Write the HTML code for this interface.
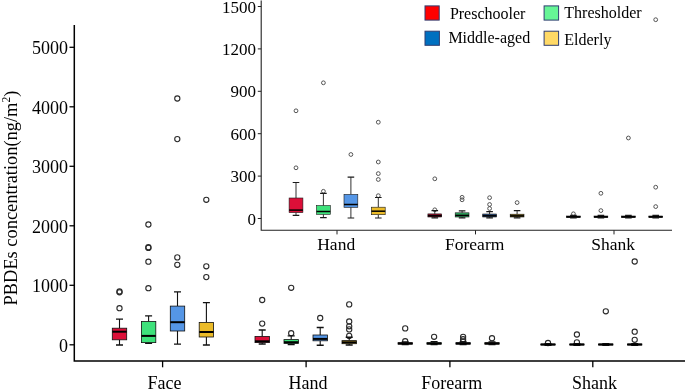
<!DOCTYPE html>
<html><head><meta charset="utf-8"><title>PBDEs concentration</title>
<style>
html,body{margin:0;padding:0;background:#fff;}
body{width:685px;height:390px;overflow:hidden;}
svg{display:block;font-family:"Liberation Serif","Times New Roman",serif;fill:#000;}
.m{font-size:18px;}
.i{font-size:17px;}
.l{font-size:16px;}
</style></head><body>
<svg width="685" height="390" viewBox="0 0 685 390">
<rect width="685" height="390" fill="#fff"/>

<g id="main">
<path d="M74.3 25V360.9H685" stroke="#000" stroke-width="1.5" fill="none"/>
<path d="M69.5 344.8H74.3" stroke="#000" stroke-width="1.3"/>
<text class="m" x="68.1" y="351.6" text-anchor="end">0</text>
<path d="M69.5 285.3H74.3" stroke="#000" stroke-width="1.3"/>
<text class="m" x="68.1" y="292.1" text-anchor="end">1000</text>
<path d="M69.5 225.8H74.3" stroke="#000" stroke-width="1.3"/>
<text class="m" x="68.1" y="232.6" text-anchor="end">2000</text>
<path d="M69.5 166.3H74.3" stroke="#000" stroke-width="1.3"/>
<text class="m" x="68.1" y="173.1" text-anchor="end">3000</text>
<path d="M69.5 106.8H74.3" stroke="#000" stroke-width="1.3"/>
<text class="m" x="68.1" y="113.6" text-anchor="end">4000</text>
<path d="M69.5 47.3H74.3" stroke="#000" stroke-width="1.3"/>
<text class="m" x="68.1" y="54.1" text-anchor="end">5000</text>
<path d="M162.6 360.9V367.3" stroke="#000" stroke-width="1.3"/>
<text class="m" x="164.4" y="389.3" text-anchor="middle">Face</text>
<path d="M306.1 360.9V367.3" stroke="#000" stroke-width="1.3"/>
<text class="m" x="307.9" y="389.3" text-anchor="middle">Hand</text>
<path d="M449.9 360.9V367.3" stroke="#000" stroke-width="1.3"/>
<text class="m" x="451.7" y="389.3" text-anchor="middle">Forearm</text>
<path d="M592.8 360.9V367.3" stroke="#000" stroke-width="1.3"/>
<text class="m" x="594.6" y="389.3" text-anchor="middle">Shank</text>
<text class="m" style="font-size:18.4px" transform="translate(16.8 305.4) rotate(-90)">PBDEs concentration(ng/m<tspan font-size="11.5" dy="-7">2</tspan><tspan dy="7">)</tspan></text>
<circle cx="119.5" cy="291.5" r="2.6" fill="#fff" fill-opacity="0" stroke="#2a2a2a" stroke-width="1.1"/><circle cx="119.5" cy="292.3" r="2.6" fill="#fff" fill-opacity="0" stroke="#2a2a2a" stroke-width="1.1"/><circle cx="119.5" cy="308.2" r="2.6" fill="#fff" fill-opacity="0" stroke="#2a2a2a" stroke-width="1.1"/>
<circle cx="148.4" cy="224.5" r="2.6" fill="#fff" fill-opacity="0" stroke="#2a2a2a" stroke-width="1.1"/><circle cx="148.4" cy="247.2" r="2.6" fill="#fff" fill-opacity="0" stroke="#2a2a2a" stroke-width="1.1"/><circle cx="148.4" cy="247.9" r="2.6" fill="#fff" fill-opacity="0" stroke="#2a2a2a" stroke-width="1.1"/><circle cx="148.4" cy="261.7" r="2.6" fill="#fff" fill-opacity="0" stroke="#2a2a2a" stroke-width="1.1"/><circle cx="148.4" cy="288.2" r="2.6" fill="#fff" fill-opacity="0" stroke="#2a2a2a" stroke-width="1.1"/>
<circle cx="177.3" cy="98.5" r="2.6" fill="#fff" fill-opacity="0" stroke="#2a2a2a" stroke-width="1.1"/><circle cx="177.3" cy="139.1" r="2.6" fill="#fff" fill-opacity="0" stroke="#2a2a2a" stroke-width="1.1"/><circle cx="177.3" cy="257.4" r="2.6" fill="#fff" fill-opacity="0" stroke="#2a2a2a" stroke-width="1.1"/><circle cx="177.3" cy="264.8" r="2.6" fill="#fff" fill-opacity="0" stroke="#2a2a2a" stroke-width="1.1"/>
<circle cx="206.3" cy="199.8" r="2.6" fill="#fff" fill-opacity="0" stroke="#2a2a2a" stroke-width="1.1"/><circle cx="206.3" cy="266.3" r="2.6" fill="#fff" fill-opacity="0" stroke="#2a2a2a" stroke-width="1.1"/><circle cx="206.3" cy="277.1" r="2.6" fill="#fff" fill-opacity="0" stroke="#2a2a2a" stroke-width="1.1"/>
<path d="M119.5 319.1V328.2M119.5 339.8V345.0" stroke="#111" stroke-width="1.1" fill="none"/><path d="M116.0 319.1H123.0M116.0 345.0H123.0" stroke="#111" stroke-width="1.4000000000000001" fill="none"/><rect x="112.3" y="328.2" width="14.4" height="11.6" fill="#DC0F38" stroke="#111" stroke-width="0.8"/><path d="M112.3 331.7H126.7" stroke="#000" stroke-width="2.0" fill="none"/>
<path d="M148.6 315.9V321.5M148.6 342.6V343.4" stroke="#111" stroke-width="1.1" fill="none"/><path d="M145.1 315.9H152.1M145.1 343.4H152.1" stroke="#111" stroke-width="1.4000000000000001" fill="none"/><rect x="141.4" y="321.5" width="14.4" height="21.1" fill="#3EE27B" stroke="#111" stroke-width="0.8"/><path d="M141.4 335.9H155.8" stroke="#000" stroke-width="2.0" fill="none"/>
<path d="M177.5 291.9V306.1M177.5 331.0V344.1" stroke="#111" stroke-width="1.1" fill="none"/><path d="M174.0 291.9H181.0M174.0 344.1H181.0" stroke="#111" stroke-width="1.4000000000000001" fill="none"/><rect x="170.3" y="306.1" width="14.4" height="24.9" fill="#5596E6" stroke="#111" stroke-width="0.8"/><path d="M170.3 322.2H184.7" stroke="#000" stroke-width="2.0" fill="none"/>
<path d="M206.4 302.6V322.4M206.4 337.0V345.0" stroke="#111" stroke-width="1.1" fill="none"/><path d="M202.9 302.6H209.9M202.9 345.0H209.9" stroke="#111" stroke-width="1.4000000000000001" fill="none"/><rect x="199.2" y="322.4" width="14.4" height="14.6" fill="#EBBB28" stroke="#111" stroke-width="0.8"/><path d="M199.2 332.0H213.6" stroke="#000" stroke-width="2.0" fill="none"/>
<circle cx="262.2" cy="300.0" r="2.6" fill="#fff" fill-opacity="0" stroke="#2a2a2a" stroke-width="1.1"/><circle cx="262.2" cy="323.6" r="2.6" fill="#fff" fill-opacity="0" stroke="#2a2a2a" stroke-width="1.1"/>
<circle cx="291.2" cy="287.8" r="2.6" fill="#fff" fill-opacity="0" stroke="#2a2a2a" stroke-width="1.1"/><circle cx="291.2" cy="333.2" r="2.6" fill="#fff" fill-opacity="0" stroke="#2a2a2a" stroke-width="1.1"/>
<circle cx="320.2" cy="318.0" r="2.6" fill="#fff" fill-opacity="0" stroke="#2a2a2a" stroke-width="1.1"/>
<circle cx="349.2" cy="304.4" r="2.6" fill="#fff" fill-opacity="0" stroke="#2a2a2a" stroke-width="1.1"/><circle cx="349.2" cy="321.5" r="2.6" fill="#fff" fill-opacity="0" stroke="#2a2a2a" stroke-width="1.1"/><circle cx="349.2" cy="326.3" r="2.6" fill="#fff" fill-opacity="0" stroke="#2a2a2a" stroke-width="1.1"/><circle cx="349.2" cy="329.4" r="2.6" fill="#fff" fill-opacity="0" stroke="#2a2a2a" stroke-width="1.1"/><circle cx="349.2" cy="335.9" r="2.6" fill="#fff" fill-opacity="0" stroke="#2a2a2a" stroke-width="1.1"/>
<path d="M262.2 330.0V336.4M262.2 342.6V344.0" stroke="#111" stroke-width="1.1" fill="none"/><path d="M258.7 330.0H265.7M258.7 344.0H265.7" stroke="#111" stroke-width="1.4000000000000001" fill="none"/><rect x="255.0" y="336.4" width="14.4" height="6.2" fill="#DC0F38" stroke="#111" stroke-width="0.8"/><path d="M255.0 341.3H269.4" stroke="#000" stroke-width="2.0" fill="none"/>
<path d="M291.2 335.9V339.6M291.2 343.4V344.5" stroke="#111" stroke-width="1.1" fill="none"/><path d="M287.7 335.9H294.7M287.7 344.5H294.7" stroke="#111" stroke-width="1.4000000000000001" fill="none"/><rect x="284.0" y="339.6" width="14.4" height="3.8" fill="#3EE27B" stroke="#111" stroke-width="0.8"/><path d="M284.0 342.2H298.4" stroke="#000" stroke-width="2.0" fill="none"/>
<path d="M320.2 327.5V335.0M320.2 340.8V345.2" stroke="#111" stroke-width="1.1" fill="none"/><path d="M316.7 327.5H323.7M316.7 345.2H323.7" stroke="#111" stroke-width="1.4000000000000001" fill="none"/><rect x="313.0" y="335.0" width="14.4" height="5.8" fill="#5596E6" stroke="#111" stroke-width="0.8"/><path d="M313.0 338.9H327.4" stroke="#000" stroke-width="2.0" fill="none"/>
<path d="M349.2 337.3V340.6M349.2 343.7V345.0" stroke="#111" stroke-width="1.1" fill="none"/><path d="M345.7 337.3H352.7M345.7 345.0H352.7" stroke="#111" stroke-width="1.4000000000000001" fill="none"/><rect x="342.0" y="340.6" width="14.4" height="3.1" fill="#EBBB28" stroke="#111" stroke-width="0.8"/><path d="M342.0 342.3H356.4" stroke="#000" stroke-width="2.0" fill="none"/>
<circle cx="405.2" cy="328.4" r="2.6" fill="#fff" fill-opacity="0" stroke="#2a2a2a" stroke-width="1.1"/><circle cx="405.2" cy="341.2" r="2.6" fill="#fff" fill-opacity="0" stroke="#2a2a2a" stroke-width="1.1"/>
<circle cx="434.1" cy="336.8" r="2.6" fill="#fff" fill-opacity="0" stroke="#2a2a2a" stroke-width="1.1"/>
<circle cx="463.1" cy="336.8" r="2.6" fill="#fff" fill-opacity="0" stroke="#2a2a2a" stroke-width="1.1"/><circle cx="463.1" cy="339.2" r="2.6" fill="#fff" fill-opacity="0" stroke="#2a2a2a" stroke-width="1.1"/><circle cx="463.1" cy="341.3" r="2.6" fill="#fff" fill-opacity="0" stroke="#2a2a2a" stroke-width="1.1"/>
<circle cx="492.0" cy="338.2" r="2.6" fill="#fff" fill-opacity="0" stroke="#2a2a2a" stroke-width="1.1"/>
<path d="M405.2 342.0V342.7M405.2 344.1V344.6" stroke="#111" stroke-width="1.1" fill="none"/><path d="M401.7 342.0H408.7M401.7 344.6H408.7" stroke="#111" stroke-width="1.4000000000000001" fill="none"/><rect x="398.0" y="342.7" width="14.4" height="1.4" fill="#5a0a18" stroke="#111" stroke-width="0.8"/><path d="M398.0 343.5H412.4" stroke="#000" stroke-width="2.0" fill="none"/>
<path d="M434.1 341.6V342.7M434.1 344.1V344.6" stroke="#111" stroke-width="1.1" fill="none"/><path d="M430.6 341.6H437.6M430.6 344.6H437.6" stroke="#111" stroke-width="1.4000000000000001" fill="none"/><rect x="426.9" y="342.7" width="14.4" height="1.4" fill="#14602f" stroke="#111" stroke-width="0.8"/><path d="M426.9 343.5H441.3" stroke="#000" stroke-width="2.0" fill="none"/>
<path d="M463.1 341.9V342.7M463.1 344.1V344.6" stroke="#111" stroke-width="1.1" fill="none"/><path d="M459.6 341.9H466.6M459.6 344.6H466.6" stroke="#111" stroke-width="1.4000000000000001" fill="none"/><rect x="455.9" y="342.7" width="14.4" height="1.4" fill="#1f3a5c" stroke="#111" stroke-width="0.8"/><path d="M455.9 343.5H470.3" stroke="#000" stroke-width="2.0" fill="none"/>
<path d="M492.0 342.0V342.7M492.0 344.1V344.6" stroke="#111" stroke-width="1.1" fill="none"/><path d="M488.5 342.0H495.5M488.5 344.6H495.5" stroke="#111" stroke-width="1.4000000000000001" fill="none"/><rect x="484.8" y="342.7" width="14.4" height="1.4" fill="#5c4a10" stroke="#111" stroke-width="0.8"/><path d="M484.8 343.5H499.2" stroke="#000" stroke-width="2.0" fill="none"/>
<circle cx="548.0" cy="343.0" r="2.6" fill="#fff" fill-opacity="0" stroke="#2a2a2a" stroke-width="1.1"/>
<circle cx="576.9" cy="334.5" r="2.6" fill="#fff" fill-opacity="0" stroke="#2a2a2a" stroke-width="1.1"/><circle cx="576.9" cy="342.3" r="2.6" fill="#fff" fill-opacity="0" stroke="#2a2a2a" stroke-width="1.1"/>
<circle cx="605.8" cy="311.3" r="2.6" fill="#fff" fill-opacity="0" stroke="#2a2a2a" stroke-width="1.1"/>
<circle cx="634.7" cy="261.5" r="2.6" fill="#fff" fill-opacity="0" stroke="#2a2a2a" stroke-width="1.1"/><circle cx="634.7" cy="331.7" r="2.6" fill="#fff" fill-opacity="0" stroke="#2a2a2a" stroke-width="1.1"/><circle cx="634.7" cy="339.8" r="2.6" fill="#fff" fill-opacity="0" stroke="#2a2a2a" stroke-width="1.1"/>
<path d="M548.0 343.8V344.0M548.0 345.0V345.2" stroke="#111" stroke-width="1.1" fill="none"/><path d="M544.5 343.8H551.5M544.5 345.2H551.5" stroke="#111" stroke-width="1.4000000000000001" fill="none"/><rect x="540.8" y="344.0" width="14.4" height="1.0" fill="#111" stroke="#111" stroke-width="0.8"/><path d="M540.8 344.5H555.2" stroke="#000" stroke-width="2.0" fill="none"/>
<path d="M576.9 343.8V344.0M576.9 345.0V345.2" stroke="#111" stroke-width="1.1" fill="none"/><path d="M573.4 343.8H580.4M573.4 345.2H580.4" stroke="#111" stroke-width="1.4000000000000001" fill="none"/><rect x="569.7" y="344.0" width="14.4" height="1.0" fill="#111" stroke="#111" stroke-width="0.8"/><path d="M569.7 344.5H584.1" stroke="#000" stroke-width="2.0" fill="none"/>
<path d="M605.8 343.8V344.0M605.8 345.0V345.2" stroke="#111" stroke-width="1.1" fill="none"/><path d="M602.3 343.8H609.3M602.3 345.2H609.3" stroke="#111" stroke-width="1.4000000000000001" fill="none"/><rect x="598.6" y="344.0" width="14.4" height="1.0" fill="#111" stroke="#111" stroke-width="0.8"/><path d="M598.6 344.5H613.0" stroke="#000" stroke-width="2.0" fill="none"/>
<path d="M634.7 343.8V344.0M634.7 345.0V345.2" stroke="#111" stroke-width="1.1" fill="none"/><path d="M631.2 343.8H638.2M631.2 345.2H638.2" stroke="#111" stroke-width="1.4000000000000001" fill="none"/><rect x="627.5" y="344.0" width="14.4" height="1.0" fill="#111" stroke="#111" stroke-width="0.8"/><path d="M627.5 344.5H641.9" stroke="#000" stroke-width="2.0" fill="none"/>
</g>
<g id="inset">
<rect x="222" y="0" width="455" height="256" fill="#fff"/>
<path d="M261.2 0.5V230.3H672" stroke="#222" stroke-width="1.1" fill="none"/>
<path d="M257.8 218.5H261.2" stroke="#222" stroke-width="1"/>
<text class="i" x="256.0" y="224.6" text-anchor="end">0</text>
<path d="M257.8 176.1H261.2" stroke="#222" stroke-width="1"/>
<text class="i" x="256.0" y="182.2" text-anchor="end">300</text>
<path d="M257.8 133.7H261.2" stroke="#222" stroke-width="1"/>
<text class="i" x="256.0" y="139.8" text-anchor="end">600</text>
<path d="M257.8 91.3H261.2" stroke="#222" stroke-width="1"/>
<text class="i" x="256.0" y="97.4" text-anchor="end">900</text>
<path d="M257.8 48.9H261.2" stroke="#222" stroke-width="1"/>
<text class="i" x="256.0" y="55.0" text-anchor="end">1200</text>
<path d="M257.8 6.5H261.2" stroke="#222" stroke-width="1"/>
<text class="i" x="256.0" y="12.6" text-anchor="end">1500</text>
<path d="M337.0 230.3V234.4" stroke="#222" stroke-width="1"/>
<text class="i" style="font-size:17.5px" x="336.2" y="250.2" text-anchor="middle">Hand</text>
<path d="M475.5 230.3V234.4" stroke="#222" stroke-width="1"/>
<text class="i" style="font-size:17.5px" x="474.7" y="250.2" text-anchor="middle">Forearm</text>
<path d="M614.0 230.3V234.4" stroke="#222" stroke-width="1"/>
<text class="i" style="font-size:17.5px" x="613.2" y="250.2" text-anchor="middle">Shank</text>
<circle cx="296.0" cy="110.8" r="1.9" fill="#fff" fill-opacity="0" stroke="#444" stroke-width="0.9"/><circle cx="296.0" cy="167.8" r="1.9" fill="#fff" fill-opacity="0" stroke="#444" stroke-width="0.9"/>
<circle cx="323.4" cy="82.8" r="1.9" fill="#fff" fill-opacity="0" stroke="#444" stroke-width="0.9"/><circle cx="323.4" cy="191.3" r="1.9" fill="#fff" fill-opacity="0" stroke="#444" stroke-width="0.9"/>
<circle cx="350.9" cy="154.5" r="1.9" fill="#fff" fill-opacity="0" stroke="#444" stroke-width="0.9"/>
<circle cx="378.3" cy="122.2" r="1.9" fill="#fff" fill-opacity="0" stroke="#444" stroke-width="0.9"/><circle cx="378.3" cy="162.0" r="1.9" fill="#fff" fill-opacity="0" stroke="#444" stroke-width="0.9"/><circle cx="378.3" cy="173.6" r="1.9" fill="#fff" fill-opacity="0" stroke="#444" stroke-width="0.9"/><circle cx="378.3" cy="179.5" r="1.9" fill="#fff" fill-opacity="0" stroke="#444" stroke-width="0.9"/><circle cx="378.3" cy="195.7" r="1.9" fill="#fff" fill-opacity="0" stroke="#444" stroke-width="0.9"/>
<path d="M296.0 182.5V198.0M296.0 212.6V215.4" stroke="#1a1a1a" stroke-width="0.9" fill="none"/><path d="M292.7 182.5H299.3M292.7 215.4H299.3" stroke="#1a1a1a" stroke-width="1.2" fill="none"/><rect x="289.1" y="198.0" width="13.8" height="14.6" fill="#DC0F38" stroke="#1a1a1a" stroke-width="0.6"/><path d="M289.1 210.1H302.9" stroke="#000" stroke-width="1.5" fill="none"/>
<path d="M323.4 193.3V205.6M323.4 214.3V217.7" stroke="#1a1a1a" stroke-width="0.9" fill="none"/><path d="M320.1 193.3H326.7M320.1 217.7H326.7" stroke="#1a1a1a" stroke-width="1.2" fill="none"/><rect x="316.5" y="205.6" width="13.8" height="8.7" fill="#3EE27B" stroke="#1a1a1a" stroke-width="0.6"/><path d="M316.5 211.5H330.3" stroke="#000" stroke-width="1.5" fill="none"/>
<path d="M350.9 177.2V194.4M350.9 207.3V218.0" stroke="#1a1a1a" stroke-width="0.9" fill="none"/><path d="M347.6 177.2H354.2M347.6 218.0H354.2" stroke="#1a1a1a" stroke-width="1.2" fill="none"/><rect x="344.0" y="194.4" width="13.8" height="12.9" fill="#5596E6" stroke="#1a1a1a" stroke-width="0.6"/><path d="M344.0 204.5H357.8" stroke="#000" stroke-width="1.5" fill="none"/>
<path d="M378.3 197.5V207.2M378.3 214.7V218.0" stroke="#1a1a1a" stroke-width="0.9" fill="none"/><path d="M375.0 197.5H381.6M375.0 218.0H381.6" stroke="#1a1a1a" stroke-width="1.2" fill="none"/><rect x="371.4" y="207.2" width="13.8" height="7.5" fill="#EBBB28" stroke="#1a1a1a" stroke-width="0.6"/><path d="M371.4 211.2H385.2" stroke="#000" stroke-width="1.5" fill="none"/>
<circle cx="434.8" cy="178.8" r="1.9" fill="#fff" fill-opacity="0" stroke="#444" stroke-width="0.9"/><circle cx="434.8" cy="209.8" r="1.9" fill="#fff" fill-opacity="0" stroke="#444" stroke-width="0.9"/>
<circle cx="462.1" cy="197.3" r="1.9" fill="#fff" fill-opacity="0" stroke="#444" stroke-width="0.9"/><circle cx="462.1" cy="199.8" r="1.9" fill="#fff" fill-opacity="0" stroke="#444" stroke-width="0.9"/>
<circle cx="489.6" cy="197.7" r="1.9" fill="#fff" fill-opacity="0" stroke="#444" stroke-width="0.9"/><circle cx="489.6" cy="204.5" r="1.9" fill="#fff" fill-opacity="0" stroke="#444" stroke-width="0.9"/><circle cx="489.6" cy="208.5" r="1.9" fill="#fff" fill-opacity="0" stroke="#444" stroke-width="0.9"/>
<circle cx="517.1" cy="202.6" r="1.9" fill="#fff" fill-opacity="0" stroke="#444" stroke-width="0.9"/>
<path d="M434.8 210.6V213.9M434.8 217.0V217.8" stroke="#1a1a1a" stroke-width="0.9" fill="none"/><path d="M431.5 210.6H438.1M431.5 217.8H438.1" stroke="#1a1a1a" stroke-width="1.2" fill="none"/><rect x="427.9" y="213.9" width="13.8" height="3.1" fill="#8c0a26" stroke="#1a1a1a" stroke-width="0.6"/><path d="M427.9 215.8H441.7" stroke="#000" stroke-width="1.5" fill="none"/>
<path d="M462.1 210.8V212.8M462.1 217.0V217.8" stroke="#1a1a1a" stroke-width="0.9" fill="none"/><path d="M458.8 210.8H465.4M458.8 217.8H465.4" stroke="#1a1a1a" stroke-width="1.2" fill="none"/><rect x="455.2" y="212.8" width="13.8" height="4.2" fill="#2ea35c" stroke="#1a1a1a" stroke-width="0.6"/><path d="M455.2 215.4H469.0" stroke="#000" stroke-width="1.5" fill="none"/>
<path d="M489.6 211.7V214.0M489.6 217.0V217.8" stroke="#1a1a1a" stroke-width="0.9" fill="none"/><path d="M486.3 211.7H492.9M486.3 217.8H492.9" stroke="#1a1a1a" stroke-width="1.2" fill="none"/><rect x="482.7" y="214.0" width="13.8" height="3.0" fill="#2c4f80" stroke="#1a1a1a" stroke-width="0.6"/><path d="M482.7 215.8H496.5" stroke="#000" stroke-width="1.5" fill="none"/>
<path d="M517.1 210.6V214.2M517.1 217.0V217.8" stroke="#1a1a1a" stroke-width="0.9" fill="none"/><path d="M513.8 210.6H520.4M513.8 217.8H520.4" stroke="#1a1a1a" stroke-width="1.2" fill="none"/><rect x="510.2" y="214.2" width="13.8" height="2.8" fill="#8a6d14" stroke="#1a1a1a" stroke-width="0.6"/><path d="M510.2 215.9H524.0" stroke="#000" stroke-width="1.5" fill="none"/>
<circle cx="573.4" cy="213.8" r="1.9" fill="#fff" fill-opacity="0" stroke="#444" stroke-width="0.9"/>
<circle cx="600.9" cy="193.3" r="1.9" fill="#fff" fill-opacity="0" stroke="#444" stroke-width="0.9"/><circle cx="600.9" cy="210.6" r="1.9" fill="#fff" fill-opacity="0" stroke="#444" stroke-width="0.9"/>
<circle cx="628.4" cy="138.0" r="1.9" fill="#fff" fill-opacity="0" stroke="#444" stroke-width="0.9"/>
<circle cx="655.7" cy="19.7" r="1.9" fill="#fff" fill-opacity="0" stroke="#444" stroke-width="0.9"/><circle cx="655.7" cy="187.2" r="1.9" fill="#fff" fill-opacity="0" stroke="#444" stroke-width="0.9"/><circle cx="655.7" cy="206.6" r="1.9" fill="#fff" fill-opacity="0" stroke="#444" stroke-width="0.9"/>
<path d="M573.4 215.4V216.0M573.4 217.6V218.0" stroke="#1a1a1a" stroke-width="0.9" fill="none"/><path d="M570.1 215.4H576.7M570.1 218.0H576.7" stroke="#1a1a1a" stroke-width="1.2" fill="none"/><rect x="566.5" y="216.0" width="13.8" height="1.6" fill="#222" stroke="#1a1a1a" stroke-width="0.6"/><path d="M566.5 216.8H580.3" stroke="#000" stroke-width="1.5" fill="none"/>
<path d="M600.9 215.4V216.0M600.9 217.6V218.0" stroke="#1a1a1a" stroke-width="0.9" fill="none"/><path d="M597.6 215.4H604.2M597.6 218.0H604.2" stroke="#1a1a1a" stroke-width="1.2" fill="none"/><rect x="594.0" y="216.0" width="13.8" height="1.6" fill="#222" stroke="#1a1a1a" stroke-width="0.6"/><path d="M594.0 216.8H607.8" stroke="#000" stroke-width="1.5" fill="none"/>
<path d="M628.4 215.4V216.0M628.4 217.6V218.0" stroke="#1a1a1a" stroke-width="0.9" fill="none"/><path d="M625.1 215.4H631.7M625.1 218.0H631.7" stroke="#1a1a1a" stroke-width="1.2" fill="none"/><rect x="621.5" y="216.0" width="13.8" height="1.6" fill="#222" stroke="#1a1a1a" stroke-width="0.6"/><path d="M621.5 216.8H635.3" stroke="#000" stroke-width="1.5" fill="none"/>
<path d="M655.7 215.4V216.0M655.7 217.6V218.0" stroke="#1a1a1a" stroke-width="0.9" fill="none"/><path d="M652.4 215.4H659.0M652.4 218.0H659.0" stroke="#1a1a1a" stroke-width="1.2" fill="none"/><rect x="648.8" y="216.0" width="13.8" height="1.6" fill="#222" stroke="#1a1a1a" stroke-width="0.6"/><path d="M648.8 216.8H662.6" stroke="#000" stroke-width="1.5" fill="none"/>
</g>
<g id="legend">
<rect x="425.0" y="5.9" width="14.2" height="14.2" fill="#FF0000" stroke="#2f3d70" stroke-width="1"/>
<rect x="425.0" y="31.2" width="14.4" height="14.1" fill="#0070C0" stroke="#2f3d70" stroke-width="1"/>
<rect x="544.1" y="5.9" width="14.5" height="14.2" fill="#66F596" stroke="#2f3d70" stroke-width="1"/>
<rect x="544.1" y="31.2" width="14.5" height="14.1" fill="#FFD966" stroke="#2f3d70" stroke-width="1"/>
<text class="l" x="449.9" y="18.7">Preschooler</text>
<text class="l" x="448.4" y="42.7">Middle-aged</text>
<text class="l" x="564.3" y="17.6">Thresholder</text>
<text class="l" x="564.3" y="44.6">Elderly</text>
</g>
</svg></body></html>
